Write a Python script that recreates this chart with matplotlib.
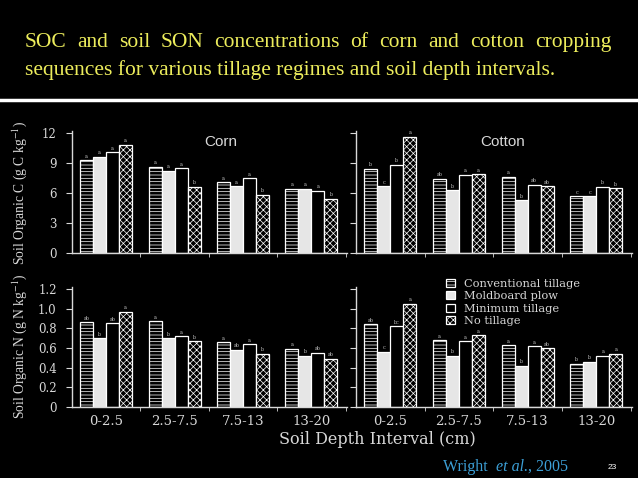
import matplotlib
matplotlib.use("Agg")
from matplotlib import pyplot as plt
from matplotlib.patches import Patch
from matplotlib.lines import Line2D
import numpy as np

# ---- data ----
depths = ["0-2.5", "2.5-7.5", "7.5-13", "13-20"]
tillage = ["Conventional tillage", "Moldboard plow", "Minimum tillage", "No tillage"]

# one list per tillage regime, values over the depth intervals
corn_c = [[9.3, 8.6, 7.1, 6.4],
          [9.6, 8.2, 6.7, 6.4],
          [10.1, 8.5, 7.5, 6.2],
          [10.8, 6.6, 5.8, 5.4]]
cotton_c = [[8.4, 7.4, 7.6, 5.7],
            [6.7, 6.3, 5.3, 5.7],
            [8.8, 7.8, 6.8, 6.6],
            [11.6, 7.9, 6.7, 6.5]]
corn_n = [[0.86, 0.87, 0.66, 0.59],
          [0.70, 0.70, 0.58, 0.52],
          [0.85, 0.72, 0.64, 0.55],
          [0.97, 0.67, 0.54, 0.49]]
cotton_n = [[0.84, 0.68, 0.63, 0.44],
            [0.56, 0.52, 0.42, 0.46],
            [0.82, 0.67, 0.62, 0.52],
            [1.05, 0.73, 0.60, 0.54]]

corn_c_let = [["a", "a", "a", "a"], ["a", "a", "a", "a"], ["a", "a", "a", "a"], ["a", "b", "b", "b"]]
cotton_c_let = [["b", "ab", "a", "c"], ["c", "b", "b", "c"], ["b", "a", "ab", "b"], ["a", "a", "ab", "b"]]
corn_n_let = [["ab", "a", "a", "a"], ["b", "b", "ab", "b"], ["ab", "a", "a", "ab"], ["a", "b", "b", "ab"]]
cotton_n_let = [["ab", "a", "a", "b"], ["c", "b", "b", "b"], ["bc", "a", "a", "a"], ["a", "a", "ab", "a"]]

c_ticks = [0, 3, 6, 9, 12]
n_ticks = [0, 0.2, 0.4, 0.6, 0.8, 1.0, 1.2]
n_ticklabels = ["0", "0.2", "0.4", "0.6", "0.8", "1.0", "1.2"]

plt.rcParams["hatch.linewidth"] = 0.5
plt.rcParams["mathtext.fontset"] = "stix"

W, H = 638, 478
fig = plt.figure(figsize=(6.38, 4.78), dpi=100, facecolor="black")

GRAY = "#d8d8d8"
styles = [dict(facecolor="black", hatch="-----"),
          dict(facecolor="#e6e6e6", hatch=None),
          dict(facecolor="black", hatch=None),
          dict(facecolor="black", hatch="xxxxx")]


def px_axes(left, right, top, bottom):
    return fig.add_axes([left / W, 1 - bottom / H, (right - left) / W, (bottom - top) / H])


def draw_panel(ax, values, letters, ymax, ticks, ticklabels, show_ylabels, show_xlabels, off):
    x = np.arange(len(depths))
    bw = 0.19
    for i, vals in enumerate(values):
        st = styles[i]
        ax.bar(x + (i - 1.5) * bw, vals, width=bw, facecolor=st["facecolor"],
               edgecolor="white", hatch=st["hatch"], linewidth=0.9, zorder=2)
        for xi, v, lab in zip(x, vals, letters[i]):
            ax.text(xi + (i - 1.5) * bw, v + off, lab, ha="center", va="bottom",
                    fontsize=3.5, color="#bbbbbb", family="DejaVu Serif")
    ax.set_facecolor("black")
    ax.set_xlim(-0.5, 3.52)
    ax.set_ylim(0, ymax)
    for s in ["top", "right"]:
        ax.spines[s].set_visible(False)
    for s in ["left", "bottom"]:
        ax.spines[s].set_color(GRAY)
        ax.spines[s].set_linewidth(1.0)
    ax.set_yticks(ticks)
    if show_ylabels:
        ax.set_yticklabels(ticklabels, family="DejaVu Serif", fontsize=8.5, color=GRAY)
    else:
        ax.set_yticklabels([])
    ax.tick_params(axis="y", direction="out", length=4, color=GRAY, pad=7)
    ax.set_xticks(x)
    if show_xlabels:
        ax.set_xticklabels(depths, family="DejaVu Serif", fontsize=9.5, color=GRAY)
    else:
        ax.set_xticklabels([])
    ax.tick_params(axis="x", which="major", length=0, pad=6)
    ax.set_xticks([0.5, 1.5, 2.5, 3.5], minor=True)
    ax.tick_params(axis="x", which="minor", direction="out", length=3, color=GRAY)


ax1 = px_axes(72, 347, 131, 253)
draw_panel(ax1, corn_c, corn_c_let, 12.2, c_ticks, [str(t) for t in c_ticks], True, False, 0.15)
ax2 = px_axes(356, 632, 131, 253)
draw_panel(ax2, cotton_c, cotton_c_let, 12.2, c_ticks, [], False, False, 0.15)
ax3 = px_axes(72, 347, 287, 407)
draw_panel(ax3, corn_n, corn_n_let, 1.22, n_ticks, n_ticklabels, True, True, 0.015)
ax4 = px_axes(356, 632, 287, 407)
draw_panel(ax4, cotton_n, cotton_n_let, 1.22, n_ticks, [], False, True, 0.015)

ax1.text(0.54, 0.91, "Corn", transform=ax1.transAxes, ha="center", va="center",
         family="Liberation Sans", fontsize=11, color=GRAY)
ax2.text(0.53, 0.91, "Cotton", transform=ax2.transAxes, ha="center", va="center",
         family="Liberation Sans", fontsize=11, color=GRAY)

fig.text(20 / W, 1 - 193 / H, r"Soil Organic C (g C kg$^{-1}$)", rotation=90,
         ha="center", va="center", family="Liberation Serif", fontsize=9.8, color=GRAY)
fig.text(20 / W, 1 - 346 / H, r"Soil Organic N (g N kg$^{-1}$)", rotation=90,
         ha="center", va="center", family="Liberation Serif", fontsize=9.8, color=GRAY)
fig.text(377 / W, 1 - 440 / H, "Soil Depth Interval (cm)", ha="center", va="center",
         family="DejaVu Serif", fontsize=11.5, color=GRAY)

handles = [Patch(facecolor=st["facecolor"], edgecolor="white", hatch=st["hatch"], linewidth=0.9)
           for st in styles]
leg = fig.legend(handles, tillage, loc="upper left", bbox_to_anchor=(446 / W, 1 - 279 / H),
                 frameon=False, prop={"family": "DejaVu Serif", "size": 8.2},
                 handlelength=0.75, handleheight=0.7, handletextpad=0.8,
                 labelspacing=0.2, borderpad=0, borderaxespad=0)
for t in leg.get_texts():
    t.set_color(GRAY)

# ---- slide title (justified first line) ----
renderer = fig.canvas.get_renderer()
title_kw = dict(family="Liberation Serif", fontsize=15.5, color="#ecec5c", va="baseline")
line1 = "SOC and soil SON concentrations of corn and cotton cropping".split()
texts = [fig.text(0, 1 - 47 / H, w, **title_kw) for w in line1]
widths = [t.get_window_extent(renderer).width for t in texts]
gap = ((611 - 25) - sum(widths)) / (len(line1) - 1)
xpos = 25
for t, w in zip(texts, widths):
    t.set_x(xpos / W)
    xpos += w + gap
fig.text(25 / W, 1 - 75 / H, "sequences for various tillage regimes and soil depth intervals.",
         **title_kw)

fig.add_artist(Line2D([0, 1], [1 - 100 / H, 1 - 100 / H], transform=fig.transFigure,
                      color="white", linewidth=2.5))

# ---- footer ----
ref_kw = dict(fontsize=11.5, color="#3c9fd6", va="baseline")
xpos = 443
for part, style in [("Wright  ", "normal"), ("et al.", "italic"), (", 2005", "normal")]:
    t = fig.text(xpos / W, 1 - 471 / H, part, family="Liberation Serif", style=style, **ref_kw)
    xpos += t.get_window_extent(renderer).width
fig.text(612 / W, 1 - 469 / H, "23", fontsize=6, color="white", ha="center",
         va="baseline", family="Liberation Sans")

fig.savefig("out.png", dpi=100, facecolor="black")
